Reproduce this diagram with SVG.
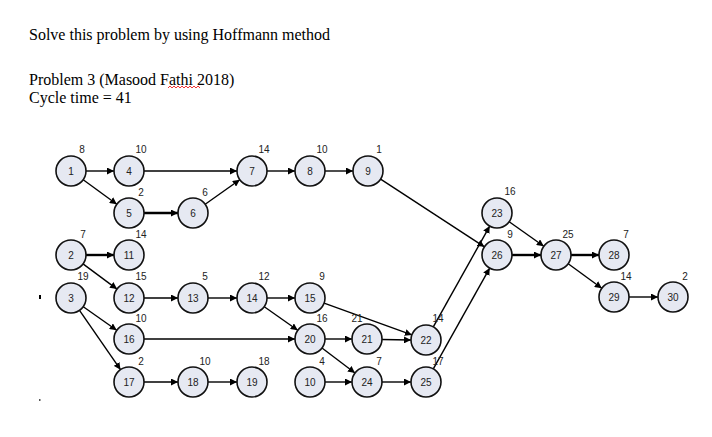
<svg xmlns="http://www.w3.org/2000/svg" width="712" height="437" viewBox="0 0 712 437">
<defs>
<style>
.t{font-family:"Liberation Serif",serif;font-size:16px;fill:#000}
.n circle{fill:#e6e9f2;stroke:#111;stroke-width:1.6}
.n text{font-family:"Liberation Sans",Arial,sans-serif;font-size:10px;fill:#222;text-anchor:middle}
.c line{stroke:#000;stroke-width:1.4;marker-end:url(#a)}
.c line.b{stroke-width:2.4}
</style>
<marker id="a" viewBox="0 0 10 10" refX="10" refY="5" markerWidth="7" markerHeight="7" markerUnits="userSpaceOnUse" orient="auto"><path d="M0,0L10,5L0,10z" fill="#000"/></marker>
</defs>
<rect width="712" height="437" fill="#fff"/>
<text class="t" x="29" y="40">Solve this problem by using Hoffmann method</text>
<text class="t" x="29" y="85">Problem 3 (Masood Fathi 2018)</text>
<path d="M168,88 l2,-2 l2,2 l2,-2 l2,2 l2,-2 l2,2 l2,-2 l2,2 l2,-2 l2,2 l2,-2 l2,2 l2,-2 l2,2 l2,-2 l2,2" fill="none" stroke="#e00" stroke-width="0.8"/>
<text class="t" x="29" y="103">Cycle time = 41</text>
<rect x="39" y="295" width="2" height="4" fill="#000"/>
<rect x="39" y="399" width="1.5" height="2" fill="#555"/>
<g class="c" id="connectors">
<line x1="86" y1="171" x2="114" y2="171"/>
<line x1="83.2" y1="179.8" x2="116.8" y2="204.2"/>
<line x1="144" y1="171" x2="237" y2="171"/>
<line class="b" x1="144" y1="213" x2="178" y2="213"/>
<line x1="205.2" y1="204.3" x2="239.8" y2="179.7"/>
<line x1="267" y1="171" x2="295" y2="171"/>
<line x1="325" y1="171" x2="353" y2="171"/>
<line x1="380.6" y1="179.2" x2="484.4" y2="246.8"/>
<line class="b" x1="86" y1="255" x2="114" y2="255"/>
<line x1="83" y1="263.9" x2="117" y2="289.1"/>
<line x1="83.3" y1="306.7" x2="116.7" y2="330.3"/>
<line x1="79.5" y1="310.3" x2="120.5" y2="369.7"/>
<line x1="144" y1="298" x2="178" y2="298"/>
<line x1="208" y1="298" x2="237" y2="298"/>
<line x1="267" y1="298" x2="295" y2="298"/>
<line x1="264.3" y1="306.7" x2="297.7" y2="330.3"/>
<line x1="324.1" y1="303.1" x2="411.9" y2="334.9"/>
<line x1="144" y1="339" x2="295" y2="339"/>
<line x1="325" y1="339" x2="352" y2="339"/>
<line x1="382" y1="339.5" x2="411" y2="340"/>
<line x1="322" y1="348" x2="355" y2="373"/>
<line x1="325" y1="382" x2="352" y2="382"/>
<line x1="144" y1="382" x2="178" y2="382"/>
<line x1="208" y1="382" x2="237" y2="382"/>
<line x1="382" y1="382" x2="411" y2="382"/>
<line x1="433.3" y1="326.9" x2="489.7" y2="226.1"/>
<line x1="433.3" y1="368.9" x2="489.7" y2="268.1"/>
<line x1="509.2" y1="221.7" x2="543.8" y2="246.3"/>
<line class="b" x1="512" y1="255" x2="541" y2="255"/>
<line class="b" x1="571" y1="255" x2="599" y2="255"/>
<line x1="568.2" y1="263.8" x2="601.8" y2="288.2"/>
<line x1="629" y1="297" x2="658" y2="297"/>
</g>
<g class="n" id="n1"><circle cx="71" cy="171" r="15"/><text x="71" y="175">1</text><text x="82" y="153">8</text></g>
<g class="n" id="n4"><circle cx="129" cy="171" r="15"/><text x="129" y="175">4</text><text x="141" y="153">10</text></g>
<g class="n" id="n7"><circle cx="252" cy="171" r="15"/><text x="252" y="175">7</text><text x="264" y="153">14</text></g>
<g class="n" id="n8"><circle cx="310" cy="171" r="15"/><text x="310" y="175">8</text><text x="322" y="153">10</text></g>
<g class="n" id="n9"><circle cx="368" cy="171" r="15"/><text x="368" y="175">9</text><text x="379" y="153">1</text></g>
<g class="n" id="n5"><circle cx="129" cy="213" r="15"/><text x="129" y="217">5</text><text x="141" y="196">2</text></g>
<g class="n" id="n6"><circle cx="193" cy="213" r="15"/><text x="193" y="217">6</text><text x="205" y="196">6</text></g>
<g class="n" id="n2"><circle cx="71" cy="255" r="15"/><text x="71" y="259">2</text><text x="83" y="238">7</text></g>
<g class="n" id="n11"><circle cx="129" cy="255" r="15"/><text x="129" y="259">11</text><text x="141" y="238">14</text></g>
<g class="n" id="n3"><circle cx="71" cy="298" r="15"/><text x="71" y="302">3</text><text x="83" y="280">19</text></g>
<g class="n" id="n12"><circle cx="129" cy="298" r="15"/><text x="129" y="302">12</text><text x="141" y="280">15</text></g>
<g class="n" id="n13"><circle cx="193" cy="298" r="15"/><text x="193" y="302">13</text><text x="205" y="280">5</text></g>
<g class="n" id="n14"><circle cx="252" cy="298" r="15"/><text x="252" y="302">14</text><text x="264" y="280">12</text></g>
<g class="n" id="n15"><circle cx="310" cy="298" r="15"/><text x="310" y="302">15</text><text x="322" y="280">9</text></g>
<g class="n" id="n16"><circle cx="129" cy="339" r="15"/><text x="129" y="343">16</text><text x="141" y="322">10</text></g>
<g class="n" id="n20"><circle cx="310" cy="339" r="15"/><text x="310" y="343">20</text><text x="322" y="322">16</text></g>
<g class="n" id="n21"><circle cx="367" cy="339" r="15"/><text x="367" y="343">21</text><text x="357" y="322">21</text></g>
<g class="n" id="n22"><circle cx="426" cy="340" r="15"/><text x="426" y="344">22</text><text x="438" y="322">14</text></g>
<g class="n" id="n17"><circle cx="129" cy="382" r="15"/><text x="129" y="386">17</text><text x="141" y="365">2</text></g>
<g class="n" id="n18"><circle cx="193" cy="382" r="15"/><text x="193" y="386">18</text><text x="205" y="365">10</text></g>
<g class="n" id="n19"><circle cx="252" cy="382" r="15"/><text x="252" y="386">19</text><text x="264" y="365">18</text></g>
<g class="n" id="n10"><circle cx="310" cy="382" r="15"/><text x="310" y="386">10</text><text x="322" y="365">4</text></g>
<g class="n" id="n24"><circle cx="367" cy="382" r="15"/><text x="367" y="386">24</text><text x="379" y="365">7</text></g>
<g class="n" id="n25"><circle cx="426" cy="382" r="15"/><text x="426" y="386">25</text><text x="438" y="365">17</text></g>
<g class="n" id="n23"><circle cx="497" cy="213" r="15"/><text x="497" y="217">23</text><text x="510" y="195">16</text></g>
<g class="n" id="n26"><circle cx="497" cy="255" r="15"/><text x="497" y="259">26</text><text x="510" y="238">9</text></g>
<g class="n" id="n27"><circle cx="556" cy="255" r="15"/><text x="556" y="259">27</text><text x="568" y="238">25</text></g>
<g class="n" id="n28"><circle cx="614" cy="255" r="15"/><text x="614" y="259">28</text><text x="626" y="238">7</text></g>
<g class="n" id="n29"><circle cx="614" cy="297" r="15"/><text x="614" y="301">29</text><text x="626" y="280">14</text></g>
<g class="n" id="n30"><circle cx="673" cy="297" r="15"/><text x="673" y="301">30</text><text x="685" y="280">2</text></g>
</svg>
